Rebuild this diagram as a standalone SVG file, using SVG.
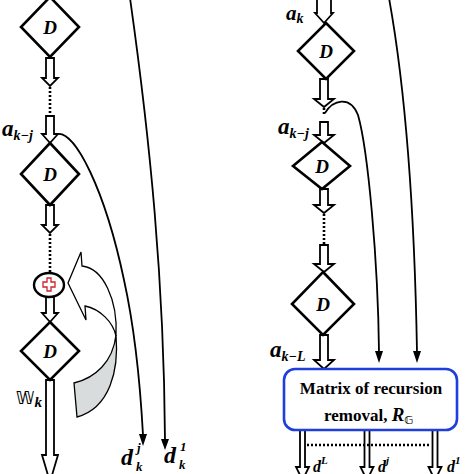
<svg xmlns="http://www.w3.org/2000/svg" width="474" height="474" viewBox="0 0 474 474">
<style>
.dia{fill:#fff;stroke:#000;stroke-width:2.6}
.ha{fill:#fff;stroke:#000;stroke-width:1.8;stroke-linejoin:miter}
.ln{fill:none;stroke:#000;stroke-width:1.8}
.dot{fill:none;stroke:#000;stroke-width:2.6;stroke-dasharray:2 2}
.D{font-family:"Liberation Serif",serif;font-weight:bold;font-style:italic;font-size:19px;text-anchor:middle}
.m{font-family:"Liberation Serif",serif;font-weight:bold;font-style:italic}
.bx{font-family:"Liberation Serif",serif;font-weight:bold;font-size:17px}
</style>
<rect width="474" height="474" fill="#fff"/>

<g id="connectors">
<path class="ha" d="M46,58 L46,78 L42,78 L50,86 L58,78 L54,78 L54,58 Z"/>
<path class="dot" d="M50,87 L50,114"/>
<path class="ha" d="M46,116 L46,134 L42,134 L50,143 L58,134 L54,134 L54,116 Z"/>
<path class="ha" d="M46,205 L46,225 L42,225 L50,233 L58,225 L54,225 L54,205 Z"/>
<path class="dot" d="M50,234 L50,272"/>
<path class="ha" d="M46,297 L46,313 L42,313 L50,322 L58,313 L54,313 L54,297 Z"/>
<path class="ha" d="M46,380 L46,455 L42,455 L50,482 L58,455 L54,455 L54,380 Z"/>
<path class="ln" d="M130,-2 C150,140 164,280 165,440"/>
<path d="M161,439 L169,439 L165,450 Z"/>
<path class="ln" d="M57,134 C75,130 105,190 124,280 C135,330 140,380 143,435"/>
<path d="M139,434 L147,434 L143,446 Z"/>
<path class="ha" d="M317,-2 L317,13 L315,13 L324,23 L333,13 L331,13 L331,-2 Z"/>
<path class="ha" d="M320,79 L320,99 L314,99 L324,107 L334,99 L328,99 L328,79 Z"/>
<path class="dot" d="M324,108 L324,114"/>
<path class="ha" d="M320,122 L320,135 L314,135 L324,143 L334,135 L328,135 L328,122 Z"/>
<path class="ha" d="M320,189 L320,205 L314,205 L324,213 L334,205 L328,205 L328,189 Z"/>
<path class="dot" d="M324,214 L324,244"/>
<path class="ha" d="M320,245 L320,264 L314,264 L324,272 L334,264 L328,264 L328,245 Z"/>
<path class="ha" d="M320,335 L320,360 L314,360 L324,369 L334,360 L328,360 L328,335 Z"/>
<path class="ln" d="M325,113 C333,100 350,95 358,115 C368,150 378,260 379,352"/>
<path d="M375,351 L383,351 L379,363 Z"/>
<path class="ln" d="M389,-2 C402,70 414,180 417,352"/>
<path d="M413,351 L421,351 L417,363 Z"/>
<path class="ha" d="M300,430 L300,467 L296,467 L302.5,480 L309,467 L305,467 L305,430 Z"/>
<path class="ha" d="M364.5,430 L364.5,467 L360.5,467 L367,480 L373.5,467 L369.5,467 L369.5,430 Z"/>
<path class="ha" d="M432.5,430 L432.5,467 L428.5,467 L435,480 L441.5,467 L437.5,467 L437.5,430 Z"/>
<path class="dot" d="M307,445 L431,445"/>
</g>

<g id="curved-arrow">
<path d="M74,383 C95,378 113,362 116,335 C119,370 110,408 77,417 Z" fill="#d9dcdc" stroke="#000" stroke-width="1.3"/>
<path d="M116,336 C118,300 103,268 82,266 L81,252 L68,283 L86,320 L85,306 C100,309 113,322 116,336 Z" fill="#fff" stroke="#000" stroke-width="1.3"/>
</g>

<g id="node-D1"><path class="dia" d="M50,-3 L79,27 L50,57 L21,27 Z"/><text class="D" x="50" y="34">D</text></g>
<g id="node-D2"><path class="dia" d="M50,143 L79,174 L50,205 L21,174 Z"/><text class="D" x="50" y="181">D</text></g>
<g id="node-adder"><ellipse cx="49" cy="285" rx="15" ry="12" fill="#fff" stroke="#000" stroke-width="2.4"/>
<path d="M47,278 L51,278 L51,282 L55,282 L55,287 L51,287 L51,291 L47,291 L47,287 L43,287 L43,282 L47,282 Z" fill="#fff" stroke="#d0202a" stroke-width="1.3"/></g>
<g id="node-D3"><path class="dia" d="M50,322 L79,351 L50,380 L21,351 Z"/><text class="D" x="50" y="358">D</text></g>

<g id="node-R1"><path class="dia" d="M326,23 L354,51 L326,79 L298,51 Z"/><text class="D" x="326" y="58">D</text></g>
<g id="node-R2"><path class="dia" d="M322,142 L350,166 L322,189 L293,166 Z"/><text class="D" x="322" y="173">D</text></g>
<g id="node-R3"><path class="dia" d="M323,272 L354,304 L323,335 L292,304 Z"/><text class="D" x="323" y="311">D</text></g>

<g id="node-matrix">
<rect x="284" y="369" width="173" height="61" rx="11" fill="#fff" stroke="#1f3fdc" stroke-width="2.6"/>
<text class="bx" x="371" y="394" text-anchor="middle">Matrix of recursion</text>
<text class="bx" x="324" y="421">removal, <tspan font-style="italic" font-size="19">R</tspan><tspan font-family="DejaVu Sans,sans-serif" font-size="11" dy="3">𝔾</tspan></text>
</g>

<g id="labels">
<text class="m" x="286" y="20" font-size="21">a<tspan font-size="14" dy="3">k</tspan></text>
<text class="m" x="2" y="136" font-size="23">a<tspan font-size="14" dy="4">k−j</tspan></text>
<text class="m" x="278" y="134" font-size="23">a<tspan font-size="14" dy="4">k−j</tspan></text>
<text class="m" x="270" y="357" font-size="23">a<tspan font-size="14" dy="4">k−L</tspan></text>
<text x="16" y="404" font-family="DejaVu Sans,sans-serif" font-size="17" font-weight="bold">𝕎<tspan class="m" font-size="15" dy="3">k</tspan></text>
<text class="m" x="121" y="465" font-size="24">d</text>
<text class="m" x="137" y="452" font-size="13">j</text>
<text class="m" x="136" y="471" font-size="13">k</text>
<text class="m" x="164" y="463" font-size="24">d</text>
<text class="m" x="180" y="451" font-size="13">1</text>
<text class="m" x="179" y="469" font-size="13">k</text>
<text class="m" x="313" y="472" font-size="16">d<tspan font-size="11" dy="-8">L</tspan></text>
<text class="m" x="378" y="472" font-size="16">d<tspan font-size="11" dy="-8">j</tspan></text>
<text class="m" x="447" y="472" font-size="16">d<tspan font-size="11" dy="-8">1</tspan></text>
</g>
</svg>
